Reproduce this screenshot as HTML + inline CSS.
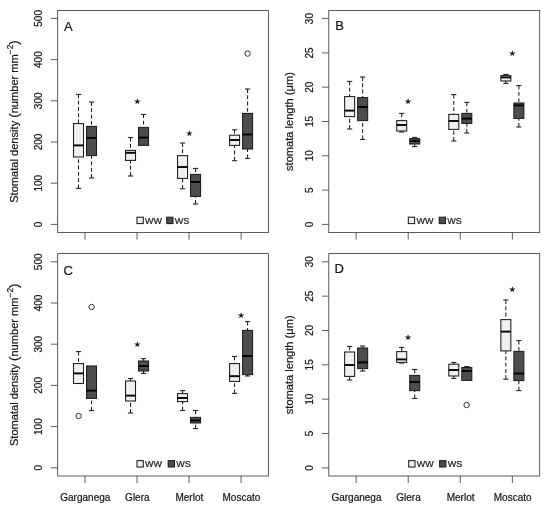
<!DOCTYPE html>
<html lang="en">
<head>
<meta charset="utf-8">
<title>Stomatal density and stomata length boxplots</title>
<style>
html,body{margin:0;padding:0;background:#fff;}
body{width:550px;height:508px;overflow:hidden;}
svg{display:block;}
.l{stroke:#333;stroke-width:0.8;}
.w{stroke:#1c1c1c;stroke-width:1.05;stroke-dasharray:3.9 2.4;}
.b{stroke:#1c1c1c;stroke-width:1.05;}
.m{stroke:#000;stroke-width:1.9;}
text{stroke:#222;stroke-width:0.22px;}
.t{font-family:"Liberation Sans",Arial,Helvetica,sans-serif;font-size:10px;fill:#111;}
.big{font-family:"Liberation Sans",Arial,Helvetica,sans-serif;font-size:13px;fill:#111;}
.lg{font-family:"Liberation Sans",Arial,Helvetica,sans-serif;font-size:9px;fill:#111;}
.star{font-family:"DejaVu Sans","Liberation Sans",sans-serif;font-size:7.4px;fill:#111;}
.yt{font-family:"Liberation Sans",Arial,Helvetica,sans-serif;font-size:11.1px;fill:#111;}
</style>
</head>
<body>
<svg width="550" height="508" viewBox="0 0 550 508">
<rect x="0" y="0" width="550" height="508" fill="#fff"/>
<g>
<rect x="57.7" y="10.5" width="210.7" height="222.1" fill="none" class="l"/>
<line x1="50.9" y1="224.4" x2="57.7" y2="224.4" class="l"/>
<text transform="translate(42.1,224.4) rotate(-90)" text-anchor="middle" class="t">0</text>
<line x1="50.9" y1="183.2" x2="57.7" y2="183.2" class="l"/>
<text transform="translate(42.1,183.2) rotate(-90)" text-anchor="middle" class="t">100</text>
<line x1="50.9" y1="142" x2="57.7" y2="142" class="l"/>
<text transform="translate(42.1,142) rotate(-90)" text-anchor="middle" class="t">200</text>
<line x1="50.9" y1="100.8" x2="57.7" y2="100.8" class="l"/>
<text transform="translate(42.1,100.8) rotate(-90)" text-anchor="middle" class="t">300</text>
<line x1="50.9" y1="59.6" x2="57.7" y2="59.6" class="l"/>
<text transform="translate(42.1,59.6) rotate(-90)" text-anchor="middle" class="t">400</text>
<line x1="50.9" y1="18.4" x2="57.7" y2="18.4" class="l"/>
<text transform="translate(42.1,18.4) rotate(-90)" text-anchor="middle" class="t">500</text>
<line x1="85.01" y1="232.6" x2="85.01" y2="239.6" class="l"/>
<line x1="137.04" y1="232.6" x2="137.04" y2="239.6" class="l"/>
<line x1="189.06" y1="232.6" x2="189.06" y2="239.6" class="l"/>
<line x1="241.09" y1="232.6" x2="241.09" y2="239.6" class="l"/>
<text transform="translate(18.1,121.55) rotate(-90)" text-anchor="middle" class="yt">Stomatal density <tspan style="font-size:13.2px">(</tspan>number mm<tspan dy="-5.6" style="font-size:8.3px">−2</tspan><tspan dy="5.6" style="font-size:13.2px">)</tspan></text>
<text x="64" y="31.1" class="big">A</text>
<line x1="78.51" y1="94.4" x2="78.51" y2="123.6" class="w"/>
<line x1="78.51" y1="188.4" x2="78.51" y2="157" class="w"/>
<line x1="75.91" y1="94.4" x2="81.11" y2="94.4" class="b"/>
<line x1="75.91" y1="188.4" x2="81.11" y2="188.4" class="b"/>
<rect x="73.51" y="123.6" width="10" height="33.4" fill="#f0f0f0" class="b"/>
<line x1="73.51" y1="145.4" x2="83.51" y2="145.4" class="m"/>
<line x1="91.52" y1="102" x2="91.52" y2="126.4" class="w"/>
<line x1="91.52" y1="178" x2="91.52" y2="155.6" class="w"/>
<line x1="88.92" y1="102" x2="94.12" y2="102" class="b"/>
<line x1="88.92" y1="178" x2="94.12" y2="178" class="b"/>
<rect x="86.52" y="126.4" width="10" height="29.2" fill="#4d4d4d" class="b"/>
<line x1="86.52" y1="137.9" x2="96.52" y2="137.9" class="m"/>
<line x1="130.53" y1="137.6" x2="130.53" y2="150.4" class="w"/>
<line x1="130.53" y1="176" x2="130.53" y2="160.4" class="w"/>
<line x1="127.93" y1="137.6" x2="133.13" y2="137.6" class="b"/>
<line x1="127.93" y1="176" x2="133.13" y2="176" class="b"/>
<rect x="125.53" y="150.4" width="10" height="10" fill="#f0f0f0" class="b"/>
<line x1="125.53" y1="152.8" x2="135.53" y2="152.8" class="m"/>
<line x1="143.54" y1="114.4" x2="143.54" y2="127.4" class="w"/>
<line x1="140.94" y1="114.4" x2="146.14" y2="114.4" class="b"/>
<rect x="138.54" y="127.4" width="10" height="18" fill="#4d4d4d" class="b"/>
<line x1="138.54" y1="137.6" x2="148.54" y2="137.6" class="m"/>
<line x1="182.56" y1="143" x2="182.56" y2="155.6" class="w"/>
<line x1="182.56" y1="188.8" x2="182.56" y2="178.4" class="w"/>
<line x1="179.96" y1="143" x2="185.16" y2="143" class="b"/>
<line x1="179.96" y1="188.8" x2="185.16" y2="188.8" class="b"/>
<rect x="177.56" y="155.6" width="10" height="22.8" fill="#f0f0f0" class="b"/>
<line x1="177.56" y1="167" x2="187.56" y2="167" class="m"/>
<line x1="195.57" y1="168.4" x2="195.57" y2="174.4" class="w"/>
<line x1="195.57" y1="204" x2="195.57" y2="196.4" class="w"/>
<line x1="192.97" y1="168.4" x2="198.17" y2="168.4" class="b"/>
<line x1="192.97" y1="204" x2="198.17" y2="204" class="b"/>
<rect x="190.57" y="174.4" width="10" height="22" fill="#4d4d4d" class="b"/>
<line x1="190.57" y1="182" x2="200.57" y2="182" class="m"/>
<line x1="234.58" y1="129.8" x2="234.58" y2="135.2" class="w"/>
<line x1="234.58" y1="160.7" x2="234.58" y2="145.4" class="w"/>
<line x1="231.98" y1="129.8" x2="237.18" y2="129.8" class="b"/>
<line x1="231.98" y1="160.7" x2="237.18" y2="160.7" class="b"/>
<rect x="229.58" y="135.2" width="10" height="10.2" fill="#f0f0f0" class="b"/>
<line x1="229.58" y1="140" x2="239.58" y2="140" class="m"/>
<line x1="247.59" y1="89" x2="247.59" y2="113.4" class="w"/>
<line x1="247.59" y1="158.4" x2="247.59" y2="149" class="w"/>
<line x1="244.99" y1="89" x2="250.19" y2="89" class="b"/>
<line x1="244.99" y1="158.4" x2="250.19" y2="158.4" class="b"/>
<rect x="242.59" y="113.4" width="10" height="35.6" fill="#4d4d4d" class="b"/>
<line x1="242.59" y1="134.5" x2="252.59" y2="134.5" class="m"/>
<circle cx="247.6" cy="53.6" r="2.7" fill="none" stroke="#1c1c1c" stroke-width="0.9"/>
<text x="137.4" y="103.9" text-anchor="middle" class="star">★</text>
<text x="189.4" y="136.3" text-anchor="middle" class="star">★</text>
<rect x="137" y="217.2" width="6.3" height="6.4" fill="#f0f0f0" class="b"/>
<text x="145.1" y="223.8" class="lg">WW</text>
<rect x="166.7" y="217.2" width="6.3" height="6.4" fill="#4d4d4d" class="b"/>
<text x="174.8" y="223.8" class="lg">WS</text>
</g>
<g>
<rect x="328.8" y="10.5" width="210.9" height="222.1" fill="none" class="l"/>
<line x1="322" y1="224.4" x2="328.8" y2="224.4" class="l"/>
<text transform="translate(313.2,224.4) rotate(-90)" text-anchor="middle" class="t">0</text>
<line x1="322" y1="190.1" x2="328.8" y2="190.1" class="l"/>
<text transform="translate(313.2,190.1) rotate(-90)" text-anchor="middle" class="t">5</text>
<line x1="322" y1="155.8" x2="328.8" y2="155.8" class="l"/>
<text transform="translate(313.2,155.8) rotate(-90)" text-anchor="middle" class="t">10</text>
<line x1="322" y1="121.5" x2="328.8" y2="121.5" class="l"/>
<text transform="translate(313.2,121.5) rotate(-90)" text-anchor="middle" class="t">15</text>
<line x1="322" y1="87.2" x2="328.8" y2="87.2" class="l"/>
<text transform="translate(313.2,87.2) rotate(-90)" text-anchor="middle" class="t">20</text>
<line x1="322" y1="52.9" x2="328.8" y2="52.9" class="l"/>
<text transform="translate(313.2,52.9) rotate(-90)" text-anchor="middle" class="t">25</text>
<line x1="322" y1="18.6" x2="328.8" y2="18.6" class="l"/>
<text transform="translate(313.2,18.6) rotate(-90)" text-anchor="middle" class="t">30</text>
<line x1="356.14" y1="232.6" x2="356.14" y2="239.6" class="l"/>
<line x1="408.21" y1="232.6" x2="408.21" y2="239.6" class="l"/>
<line x1="460.29" y1="232.6" x2="460.29" y2="239.6" class="l"/>
<line x1="512.36" y1="232.6" x2="512.36" y2="239.6" class="l"/>
<text transform="translate(292.8,121.55) rotate(-90)" text-anchor="middle" class="yt">stomata length (μm)</text>
<text x="335.3" y="29.8" class="big">B</text>
<line x1="349.63" y1="81.4" x2="349.63" y2="96.6" class="w"/>
<line x1="349.63" y1="129" x2="349.63" y2="116.6" class="w"/>
<line x1="347.03" y1="81.4" x2="352.23" y2="81.4" class="b"/>
<line x1="347.03" y1="129" x2="352.23" y2="129" class="b"/>
<rect x="344.63" y="96.6" width="10" height="20" fill="#f0f0f0" class="b"/>
<line x1="344.63" y1="110.6" x2="354.63" y2="110.6" class="m"/>
<line x1="362.65" y1="77" x2="362.65" y2="97.6" class="w"/>
<line x1="362.65" y1="139.4" x2="362.65" y2="120.6" class="w"/>
<line x1="360.05" y1="77" x2="365.25" y2="77" class="b"/>
<line x1="360.05" y1="139.4" x2="365.25" y2="139.4" class="b"/>
<rect x="357.65" y="97.6" width="10" height="23" fill="#4d4d4d" class="b"/>
<line x1="357.65" y1="107" x2="367.65" y2="107" class="m"/>
<line x1="401.7" y1="113.4" x2="401.7" y2="120.6" class="w"/>
<line x1="401.7" y1="132" x2="401.7" y2="131" class="w"/>
<line x1="399.1" y1="113.4" x2="404.3" y2="113.4" class="b"/>
<line x1="399.1" y1="132" x2="404.3" y2="132" class="b"/>
<rect x="396.7" y="120.6" width="10" height="10.4" fill="#f0f0f0" class="b"/>
<line x1="396.7" y1="125" x2="406.7" y2="125" class="m"/>
<line x1="414.72" y1="137.4" x2="414.72" y2="138.6" class="w"/>
<line x1="414.72" y1="146.6" x2="414.72" y2="144" class="w"/>
<line x1="412.12" y1="137.4" x2="417.32" y2="137.4" class="b"/>
<line x1="412.12" y1="146.6" x2="417.32" y2="146.6" class="b"/>
<rect x="409.72" y="138.6" width="10" height="5.4" fill="#4d4d4d" class="b"/>
<line x1="409.72" y1="141" x2="419.72" y2="141" class="m"/>
<line x1="453.78" y1="94.6" x2="453.78" y2="114.4" class="w"/>
<line x1="453.78" y1="141" x2="453.78" y2="129.4" class="w"/>
<line x1="451.18" y1="94.6" x2="456.38" y2="94.6" class="b"/>
<line x1="451.18" y1="141" x2="456.38" y2="141" class="b"/>
<rect x="448.78" y="114.4" width="10" height="15" fill="#f0f0f0" class="b"/>
<line x1="448.78" y1="121" x2="458.78" y2="121" class="m"/>
<line x1="466.8" y1="102.4" x2="466.8" y2="113.4" class="w"/>
<line x1="466.8" y1="133" x2="466.8" y2="123.4" class="w"/>
<line x1="464.2" y1="102.4" x2="469.4" y2="102.4" class="b"/>
<line x1="464.2" y1="133" x2="469.4" y2="133" class="b"/>
<rect x="461.8" y="113.4" width="10" height="10" fill="#4d4d4d" class="b"/>
<line x1="461.8" y1="118.6" x2="471.8" y2="118.6" class="m"/>
<line x1="505.85" y1="74.4" x2="505.85" y2="75.6" class="w"/>
<line x1="505.85" y1="83.4" x2="505.85" y2="81" class="w"/>
<line x1="503.25" y1="74.4" x2="508.45" y2="74.4" class="b"/>
<line x1="503.25" y1="83.4" x2="508.45" y2="83.4" class="b"/>
<rect x="500.85" y="75.6" width="10" height="5.4" fill="#f0f0f0" class="b"/>
<line x1="500.85" y1="77.4" x2="510.85" y2="77.4" class="m"/>
<line x1="518.87" y1="85.6" x2="518.87" y2="103" class="w"/>
<line x1="518.87" y1="127" x2="518.87" y2="118.4" class="w"/>
<line x1="516.27" y1="85.6" x2="521.47" y2="85.6" class="b"/>
<line x1="516.27" y1="127" x2="521.47" y2="127" class="b"/>
<rect x="513.87" y="103" width="10" height="15.4" fill="#4d4d4d" class="b"/>
<line x1="513.87" y1="105.4" x2="523.87" y2="105.4" class="m"/>
<text x="408" y="103.5" text-anchor="middle" class="star">★</text>
<text x="512.4" y="55.9" text-anchor="middle" class="star">★</text>
<rect x="408.3" y="217.2" width="6.3" height="6.4" fill="#f0f0f0" class="b"/>
<text x="416.4" y="223.8" class="lg">WW</text>
<rect x="439.2" y="217.2" width="6.3" height="6.4" fill="#4d4d4d" class="b"/>
<text x="447.3" y="223.8" class="lg">WS</text>
</g>
<g>
<rect x="57.7" y="253.6" width="210.7" height="222.4" fill="none" class="l"/>
<line x1="50.9" y1="467.8" x2="57.7" y2="467.8" class="l"/>
<text transform="translate(42.1,467.8) rotate(-90)" text-anchor="middle" class="t">0</text>
<line x1="50.9" y1="426.6" x2="57.7" y2="426.6" class="l"/>
<text transform="translate(42.1,426.6) rotate(-90)" text-anchor="middle" class="t">100</text>
<line x1="50.9" y1="385.4" x2="57.7" y2="385.4" class="l"/>
<text transform="translate(42.1,385.4) rotate(-90)" text-anchor="middle" class="t">200</text>
<line x1="50.9" y1="344.2" x2="57.7" y2="344.2" class="l"/>
<text transform="translate(42.1,344.2) rotate(-90)" text-anchor="middle" class="t">300</text>
<line x1="50.9" y1="303" x2="57.7" y2="303" class="l"/>
<text transform="translate(42.1,303) rotate(-90)" text-anchor="middle" class="t">400</text>
<line x1="50.9" y1="261.8" x2="57.7" y2="261.8" class="l"/>
<text transform="translate(42.1,261.8) rotate(-90)" text-anchor="middle" class="t">500</text>
<line x1="85.01" y1="476" x2="85.01" y2="483" class="l"/>
<text x="85.31" y="500.5" text-anchor="middle" class="t">Garganega</text>
<line x1="137.04" y1="476" x2="137.04" y2="483" class="l"/>
<text x="137.34" y="500.5" text-anchor="middle" class="t">Glera</text>
<line x1="189.06" y1="476" x2="189.06" y2="483" class="l"/>
<text x="189.36" y="500.5" text-anchor="middle" class="t">Merlot</text>
<line x1="241.09" y1="476" x2="241.09" y2="483" class="l"/>
<text x="241.39" y="500.5" text-anchor="middle" class="t">Moscato</text>
<text transform="translate(18.1,364.8) rotate(-90)" text-anchor="middle" class="yt">Stomatal density <tspan style="font-size:13.2px">(</tspan>number mm<tspan dy="-5.6" style="font-size:8.3px">−2</tspan><tspan dy="5.6" style="font-size:13.2px">)</tspan></text>
<text x="63.5" y="274.5" class="big">C</text>
<line x1="78.51" y1="351.6" x2="78.51" y2="363.6" class="w"/>
<line x1="75.91" y1="351.6" x2="81.11" y2="351.6" class="b"/>
<rect x="73.51" y="363.6" width="10" height="19.9" fill="#f0f0f0" class="b"/>
<line x1="73.51" y1="373.4" x2="83.51" y2="373.4" class="m"/>
<circle cx="78.6" cy="416" r="2.7" fill="none" stroke="#1c1c1c" stroke-width="0.9"/>
<line x1="91.52" y1="410.6" x2="91.52" y2="398.4" class="w"/>
<line x1="88.92" y1="410.6" x2="94.12" y2="410.6" class="b"/>
<rect x="86.52" y="366" width="10" height="32.4" fill="#4d4d4d" class="b"/>
<line x1="86.52" y1="390.6" x2="96.52" y2="390.6" class="m"/>
<circle cx="91.6" cy="307" r="2.7" fill="none" stroke="#1c1c1c" stroke-width="0.9"/>
<line x1="130.53" y1="378.5" x2="130.53" y2="381" class="w"/>
<line x1="130.53" y1="413" x2="130.53" y2="401" class="w"/>
<line x1="127.93" y1="378.5" x2="133.13" y2="378.5" class="b"/>
<line x1="127.93" y1="413" x2="133.13" y2="413" class="b"/>
<rect x="125.53" y="381" width="10" height="20" fill="#f0f0f0" class="b"/>
<line x1="125.53" y1="395.6" x2="135.53" y2="395.6" class="m"/>
<line x1="143.54" y1="358.6" x2="143.54" y2="361" class="w"/>
<line x1="143.54" y1="373.4" x2="143.54" y2="371" class="w"/>
<line x1="140.94" y1="358.6" x2="146.14" y2="358.6" class="b"/>
<line x1="140.94" y1="373.4" x2="146.14" y2="373.4" class="b"/>
<rect x="138.54" y="361" width="10" height="10" fill="#4d4d4d" class="b"/>
<line x1="138.54" y1="366" x2="148.54" y2="366" class="m"/>
<line x1="182.56" y1="390.6" x2="182.56" y2="393.6" class="w"/>
<line x1="182.56" y1="410.6" x2="182.56" y2="401.6" class="w"/>
<line x1="179.96" y1="390.6" x2="185.16" y2="390.6" class="b"/>
<line x1="179.96" y1="410.6" x2="185.16" y2="410.6" class="b"/>
<rect x="177.56" y="393.6" width="10" height="8" fill="#f0f0f0" class="b"/>
<line x1="177.56" y1="398" x2="187.56" y2="398" class="m"/>
<line x1="195.57" y1="410.4" x2="195.57" y2="417.4" class="w"/>
<line x1="195.57" y1="428.6" x2="195.57" y2="423" class="w"/>
<line x1="192.97" y1="410.4" x2="198.17" y2="410.4" class="b"/>
<line x1="192.97" y1="428.6" x2="198.17" y2="428.6" class="b"/>
<rect x="190.57" y="417.4" width="10" height="5.6" fill="#4d4d4d" class="b"/>
<line x1="190.57" y1="420.4" x2="200.57" y2="420.4" class="m"/>
<line x1="234.58" y1="356.4" x2="234.58" y2="363.6" class="w"/>
<line x1="234.58" y1="393.4" x2="234.58" y2="381.4" class="w"/>
<line x1="231.98" y1="356.4" x2="237.18" y2="356.4" class="b"/>
<line x1="231.98" y1="393.4" x2="237.18" y2="393.4" class="b"/>
<rect x="229.58" y="363.6" width="10" height="17.8" fill="#f0f0f0" class="b"/>
<line x1="229.58" y1="376.2" x2="239.58" y2="376.2" class="m"/>
<line x1="247.59" y1="321.6" x2="247.59" y2="330.4" class="w"/>
<line x1="247.59" y1="376" x2="247.59" y2="374.6" class="w"/>
<line x1="244.99" y1="321.6" x2="250.19" y2="321.6" class="b"/>
<line x1="244.99" y1="376" x2="250.19" y2="376" class="b"/>
<rect x="242.59" y="330.4" width="10" height="44.2" fill="#4d4d4d" class="b"/>
<line x1="242.59" y1="356" x2="252.59" y2="356" class="m"/>
<text x="137.4" y="346.5" text-anchor="middle" class="star">★</text>
<text x="241" y="317.9" text-anchor="middle" class="star">★</text>
<rect x="137" y="460.6" width="6.3" height="6.4" fill="#f0f0f0" class="b"/>
<text x="145.1" y="467.2" class="lg">WW</text>
<rect x="168.2" y="460.6" width="6.3" height="6.4" fill="#4d4d4d" class="b"/>
<text x="176.3" y="467.2" class="lg">WS</text>
</g>
<g>
<rect x="328.8" y="253.6" width="210.9" height="222.4" fill="none" class="l"/>
<line x1="322" y1="467.9" x2="328.8" y2="467.9" class="l"/>
<text transform="translate(313.2,467.9) rotate(-90)" text-anchor="middle" class="t">0</text>
<line x1="322" y1="433.55" x2="328.8" y2="433.55" class="l"/>
<text transform="translate(313.2,433.55) rotate(-90)" text-anchor="middle" class="t">5</text>
<line x1="322" y1="399.2" x2="328.8" y2="399.2" class="l"/>
<text transform="translate(313.2,399.2) rotate(-90)" text-anchor="middle" class="t">10</text>
<line x1="322" y1="364.85" x2="328.8" y2="364.85" class="l"/>
<text transform="translate(313.2,364.85) rotate(-90)" text-anchor="middle" class="t">15</text>
<line x1="322" y1="330.5" x2="328.8" y2="330.5" class="l"/>
<text transform="translate(313.2,330.5) rotate(-90)" text-anchor="middle" class="t">20</text>
<line x1="322" y1="296.15" x2="328.8" y2="296.15" class="l"/>
<text transform="translate(313.2,296.15) rotate(-90)" text-anchor="middle" class="t">25</text>
<line x1="322" y1="261.8" x2="328.8" y2="261.8" class="l"/>
<text transform="translate(313.2,261.8) rotate(-90)" text-anchor="middle" class="t">30</text>
<line x1="356.14" y1="476" x2="356.14" y2="483" class="l"/>
<text x="356.44" y="500.5" text-anchor="middle" class="t">Garganega</text>
<line x1="408.21" y1="476" x2="408.21" y2="483" class="l"/>
<text x="408.51" y="500.5" text-anchor="middle" class="t">Glera</text>
<line x1="460.29" y1="476" x2="460.29" y2="483" class="l"/>
<text x="460.59" y="500.5" text-anchor="middle" class="t">Merlot</text>
<line x1="512.36" y1="476" x2="512.36" y2="483" class="l"/>
<text x="512.66" y="500.5" text-anchor="middle" class="t">Moscato</text>
<text transform="translate(292.8,364.8) rotate(-90)" text-anchor="middle" class="yt">stomata length (μm)</text>
<text x="334.4" y="273.2" class="big">D</text>
<line x1="349.63" y1="346.4" x2="349.63" y2="352" class="w"/>
<line x1="349.63" y1="380" x2="349.63" y2="376.4" class="w"/>
<line x1="347.03" y1="346.4" x2="352.23" y2="346.4" class="b"/>
<line x1="347.03" y1="380" x2="352.23" y2="380" class="b"/>
<rect x="344.63" y="352" width="10" height="24.4" fill="#f0f0f0" class="b"/>
<line x1="344.63" y1="365" x2="354.63" y2="365" class="m"/>
<line x1="362.65" y1="346" x2="362.65" y2="348" class="w"/>
<line x1="362.65" y1="371" x2="362.65" y2="368.6" class="w"/>
<line x1="360.05" y1="346" x2="365.25" y2="346" class="b"/>
<line x1="360.05" y1="371" x2="365.25" y2="371" class="b"/>
<rect x="357.65" y="348" width="10" height="20.6" fill="#4d4d4d" class="b"/>
<line x1="357.65" y1="362.4" x2="367.65" y2="362.4" class="m"/>
<line x1="401.7" y1="347.4" x2="401.7" y2="351.6" class="w"/>
<line x1="401.7" y1="363" x2="401.7" y2="362.4" class="w"/>
<line x1="399.1" y1="347.4" x2="404.3" y2="347.4" class="b"/>
<line x1="399.1" y1="363" x2="404.3" y2="363" class="b"/>
<rect x="396.7" y="351.6" width="10" height="10.8" fill="#f0f0f0" class="b"/>
<line x1="396.7" y1="359.4" x2="406.7" y2="359.4" class="m"/>
<line x1="414.72" y1="369.4" x2="414.72" y2="375.4" class="w"/>
<line x1="414.72" y1="398.4" x2="414.72" y2="390.6" class="w"/>
<line x1="412.12" y1="369.4" x2="417.32" y2="369.4" class="b"/>
<line x1="412.12" y1="398.4" x2="417.32" y2="398.4" class="b"/>
<rect x="409.72" y="375.4" width="10" height="15.2" fill="#4d4d4d" class="b"/>
<line x1="409.72" y1="382" x2="419.72" y2="382" class="m"/>
<line x1="453.78" y1="362.4" x2="453.78" y2="364.2" class="w"/>
<line x1="453.78" y1="378.4" x2="453.78" y2="376" class="w"/>
<line x1="451.18" y1="362.4" x2="456.38" y2="362.4" class="b"/>
<line x1="451.18" y1="378.4" x2="456.38" y2="378.4" class="b"/>
<rect x="448.78" y="364.2" width="10" height="11.8" fill="#f0f0f0" class="b"/>
<line x1="448.78" y1="370" x2="458.78" y2="370" class="m"/>
<line x1="466.8" y1="366.6" x2="466.8" y2="367.5" class="w"/>
<line x1="464.2" y1="366.6" x2="469.4" y2="366.6" class="b"/>
<rect x="461.8" y="367.5" width="10" height="12.9" fill="#4d4d4d" class="b"/>
<line x1="461.8" y1="371" x2="471.8" y2="371" class="m"/>
<circle cx="466.6" cy="405" r="2.7" fill="none" stroke="#1c1c1c" stroke-width="0.9"/>
<line x1="505.85" y1="300" x2="505.85" y2="319.6" class="w"/>
<line x1="505.85" y1="379.2" x2="505.85" y2="350.9" class="w"/>
<line x1="503.25" y1="300" x2="508.45" y2="300" class="b"/>
<line x1="503.25" y1="379.2" x2="508.45" y2="379.2" class="b"/>
<rect x="500.85" y="319.6" width="10" height="31.3" fill="#f0f0f0" class="b"/>
<line x1="500.85" y1="331.6" x2="510.85" y2="331.6" class="m"/>
<line x1="518.87" y1="340.6" x2="518.87" y2="351.4" class="w"/>
<line x1="518.87" y1="390.6" x2="518.87" y2="380.6" class="w"/>
<line x1="516.27" y1="340.6" x2="521.47" y2="340.6" class="b"/>
<line x1="516.27" y1="390.6" x2="521.47" y2="390.6" class="b"/>
<rect x="513.87" y="351.4" width="10" height="29.2" fill="#4d4d4d" class="b"/>
<line x1="513.87" y1="373.5" x2="523.87" y2="373.5" class="m"/>
<text x="408" y="339.9" text-anchor="middle" class="star">★</text>
<text x="512.4" y="291.9" text-anchor="middle" class="star">★</text>
<rect x="408.7" y="460.6" width="6.3" height="6.4" fill="#f0f0f0" class="b"/>
<text x="416.8" y="467.2" class="lg">WW</text>
<rect x="439.6" y="460.6" width="6.3" height="6.4" fill="#4d4d4d" class="b"/>
<text x="447.7" y="467.2" class="lg">WS</text>
</g>
</svg>
</body>
</html>
